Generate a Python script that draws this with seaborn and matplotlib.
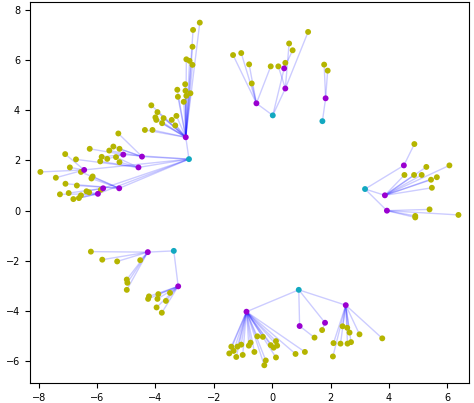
import matplotlib
matplotlib.use("Agg")
import matplotlib.pyplot as plt
import seaborn as sns
import pandas as pd

root_x = [-2.85, 0.02, 1.72, 3.18, -3.37, 0.91]
root_y = [2.05, 3.79, 3.56, 0.86, -1.60, -3.15]

mid_x = [-2.96, -4.46, -5.10, -4.58, -6.44, -5.24, -5.79, -5.97,
         -0.54, 0.45, 0.41, 1.83,
         4.51, 3.86, 3.93,
         -4.26, -3.22,
         -0.88, 0.94, 1.81, 2.52]
mid_y = [2.92, 2.15, 2.23, 1.72, 1.62, 0.89, 0.89, 0.67,
         4.27, 4.86, 5.66, 4.47,
         1.80, 0.61, 0.00,
         -1.65, -3.01,
         -4.02, -4.59, -4.46, -3.76]
mid_parent = [0, 0, 0, 0, 0, 0, 0, 0,
              1, 1, 1, 2,
              3, 3, 3,
              4, 4,
              5, 5, 5, 5]

leaf_x = [-2.48, -2.71, -2.73, -2.94, -2.83, -2.73, -2.98, -3.25, -2.97, -2.80, -3.23, -2.94,
          -3.03, -4.14, -3.93, -3.72, -3.28, -4.00, -3.97, -3.44, -3.32, -3.77, -4.36, -4.10,
          -5.27, -5.44, -5.23, -5.58,
          -6.25, -5.84, -5.65,
          -5.35, -5.89, -5.23, -6.72,
          -7.94, -7.09, -7.41, -6.93,
          -7.08, -6.55, -6.15, -6.19, -6.69,
          -6.97, -6.36, -5.87,
          -7.27, -6.81, -6.62, -6.55, -6.27,
          -1.34, -1.06, -0.79, -0.70, -0.05,
          1.23, 0.58, 0.21,
          0.70, 0.45,
          1.78, 1.90,
          4.87,
          4.53, 4.86, 5.12, 5.28, 6.07, 5.44, 5.64, 5.47,
          5.39, 4.90, 4.90, 6.38,
          -6.21, -5.82, -5.31, -4.52, -4.98, -4.96, -4.98,
          -4.22, -4.25, -3.90, -3.93, -3.50, -3.64, -3.96, -3.78,
          -1.40, -1.47, -1.32, -1.19, -1.06, -1.23, -1.01, -0.80, -0.74, -0.61, -0.51,
          -0.32, -0.05, 0.05, 0.13, 0.17, 0.13, -0.22, -0.27, 0.80, 1.12,
          1.45,
          1.71,
          2.41, 2.57, 2.65, 2.99, 3.77, 2.10, 2.34, 2.58, 2.70, 2.08]
leaf_y = [7.48, 7.19, 6.52, 6.02, 5.96, 5.80, 5.03, 4.81, 4.77, 4.67, 4.53, 4.57,
          4.33, 4.19, 3.92, 3.68, 3.77, 3.71, 3.61, 3.61, 3.39, 3.48, 3.21, 3.21,
          3.07, 2.55, 2.46, 2.39,
          2.46, 2.14, 2.06,
          2.13, 1.96, 1.93, 2.04,
          1.54, 2.25, 1.31, 1.72,
          1.07, 1.54, 1.36, 1.28, 1.00,
          0.70, 0.77, 0.83,
          0.65, 0.46, 0.50, 0.61, 0.73,
          6.19, 6.27, 5.82, 5.06, 5.74,
          7.11, 6.65, 5.74,
          6.38, 5.88,
          5.81, 5.57,
          2.65,
          1.42, 1.42, 1.42, 1.74, 1.80, 1.23, 1.33, 0.91,
          0.05, -0.21, -0.27, -0.17,
          -1.63, -1.95, -2.02, -1.97, -2.74, -2.87, -3.15,
          -3.41, -3.51, -3.32, -3.51, -3.27, -3.59, -3.85, -4.06,
          -5.41, -5.68, -5.58, -5.41, -5.33, -5.82, -5.74, -5.37, -5.25, -5.62, -5.00,
          -5.02, -5.35, -5.45, -5.19, -5.37, -5.84, -5.96, -6.15, -5.70, -5.62,
          -5.05,
          -4.75,
          -4.60, -4.66, -4.85, -4.92, -5.08, -5.27, -5.29, -5.29, -5.23, -5.80]
leaf_parent = [0]*24 + [1]*4 + [2]*3 + [3]*4 + [4]*4 + [5]*5 + [6]*3 + [7]*5 \
    + [8]*5 + [9]*3 + [10]*2 + [11]*2 + [12] + [13]*8 + [14]*4 \
    + [15]*7 + [16]*8 + [17]*21 + [18] + [19] + [20]*10

fig, ax = plt.subplots(figsize=(4.74, 4.03), dpi=100)
fig.subplots_adjust(left=0.063, right=0.99, top=0.995, bottom=0.05)

for i, p in enumerate(mid_parent):
    ax.plot([root_x[p], mid_x[i]], [root_y[p], mid_y[i]], color="blue", alpha=0.2, lw=1, zorder=1)
for i, p in enumerate(leaf_parent):
    ax.plot([mid_x[p], leaf_x[i]], [mid_y[p], leaf_y[i]], color="blue", alpha=0.2, lw=1, zorder=1)

leaves = pd.DataFrame({"x": leaf_x, "y": leaf_y})
mids = pd.DataFrame({"x": mid_x, "y": mid_y})
roots = pd.DataFrame({"x": root_x, "y": root_y})
sns.scatterplot(data=leaves, x="x", y="y", color="#b5b500", s=18, edgecolor="none", ax=ax, zorder=2)
sns.scatterplot(data=mids, x="x", y="y", color="#9a00d0", s=18, edgecolor="none", ax=ax, zorder=3)
sns.scatterplot(data=roots, x="x", y="y", color="#12a8c0", s=18, edgecolor="none", ax=ax, zorder=3)

ax.set_xlim(-8.3, 6.75)
ax.set_ylim(-6.85, 8.3)
ax.set_xlabel("")
ax.set_ylabel("")
ax.tick_params(labelsize=7)
fig.savefig("out.png", dpi=100)
